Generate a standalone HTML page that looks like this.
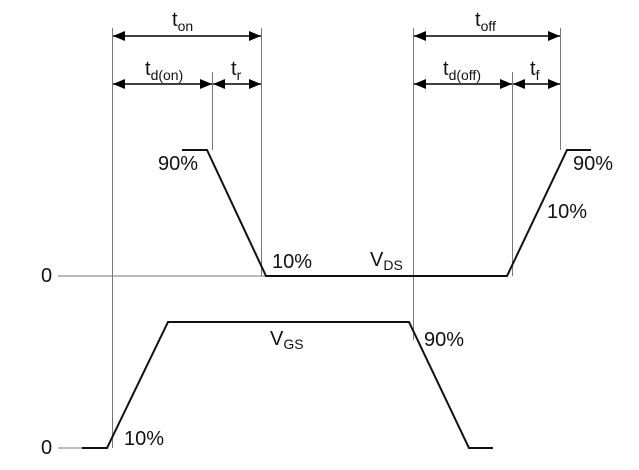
<!DOCTYPE html>
<html><head><meta charset="utf-8"><style>
html,body{margin:0;padding:0;background:#fff;}
svg{display:block;}
text{font-family:"Liberation Sans",Arial,sans-serif;fill:#111;}
</style></head><body>
<svg width="639" height="470" viewBox="0 0 639 470" xmlns="http://www.w3.org/2000/svg">
<defs>
<marker id="a" markerWidth="12" markerHeight="10" refX="12" refY="5" orient="auto-start-reverse" markerUnits="userSpaceOnUse">
<path d="M0,0 L12,5 L0,10 z" fill="#000"/></marker>
</defs>
<g stroke="#777" stroke-width="1" fill="none">
<line x1="112.5" y1="28" x2="112.5" y2="448"/>
<line x1="212.5" y1="72" x2="212.5" y2="150"/>
<line x1="261.5" y1="28" x2="261.5" y2="276"/>
<line x1="413.5" y1="28" x2="413.5" y2="340"/>
<line x1="512.5" y1="72" x2="512.5" y2="276"/>
<line x1="560.5" y1="28" x2="560.5" y2="150"/>
<line x1="58" y1="276" x2="266" y2="276"/>
<line x1="58" y1="448" x2="82" y2="448"/>
</g>
<g stroke="#000" stroke-width="1.5" fill="none" marker-start="url(#a)" marker-end="url(#a)">
<line x1="113" y1="36" x2="261" y2="36"/>
<line x1="113" y1="84" x2="212" y2="84"/>
<line x1="213" y1="84" x2="261" y2="84"/>
<line x1="414" y1="36" x2="560" y2="36"/>
<line x1="414" y1="84" x2="512" y2="84"/>
<line x1="513" y1="84" x2="560" y2="84"/>
</g>
<g stroke="#111" stroke-width="2" fill="none">
<polyline points="182,150 207,150 266,276 507,276 567,150 591,150"/>
<polyline points="82,448 107,448 168,322 409,322 469,448 493,448"/>
</g>
<g font-size="20">
<text x="172" y="26">t<tspan font-size="14" dy="5">on</tspan></text>
<text x="145" y="75">t<tspan font-size="14" dy="5">d(on)</tspan></text>
<text x="231" y="75">t<tspan font-size="14" dy="5">r</tspan></text>
<text x="475" y="26">t<tspan font-size="14" dy="5">off</tspan></text>
<text x="443" y="75">t<tspan font-size="14" dy="5">d(off)</tspan></text>
<text x="530" y="75">t<tspan font-size="14" dy="5">f</tspan></text>
<text x="158" y="170">90%</text>
<text x="573" y="170">90%</text>
<text x="547" y="218">10%</text>
<text x="272" y="268">10%</text>
<text x="370" y="266">V<tspan font-size="14" dy="4">DS</tspan></text>
<text x="270" y="345">V<tspan font-size="14" dy="4">GS</tspan></text>
<text x="424" y="346">90%</text>
<text x="124" y="445">10%</text>
<text x="41" y="282">0</text>
<text x="41" y="454">0</text>
</g>
</svg>
</body></html>
